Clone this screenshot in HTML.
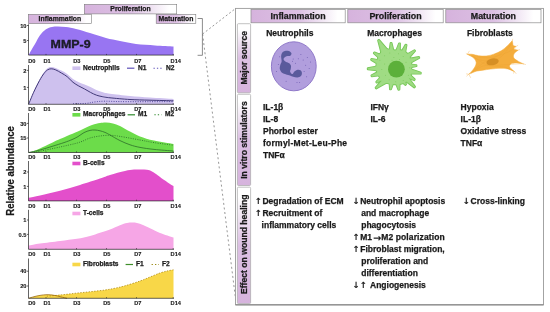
<!DOCTYPE html>
<html lang="en"><head><meta charset="utf-8"><title>MMP-9 in wound healing</title>
<style>
html,body{margin:0;padding:0;background:#fff;}
body{width:550px;height:312px;overflow:hidden;font-family:"Liberation Sans",sans-serif;}
svg{display:block;}
text{font-family:"Liberation Sans",sans-serif;font-weight:bold;fill:#1a1a1a;stroke:#1a1a1a;stroke-width:0.25px;}
.ar{font-family:"DejaVu Sans",sans-serif;font-size:7.4px;stroke-width:0.1px;}
.tk{font-size:5.7px;stroke-width:0.12px;}
.lg{font-size:6.6px;}
.bn{font-size:6.85px;}
.hd{font-size:8.85px;}
.bd{font-size:8.5px;}
.ax{stroke:#222;stroke-width:0.7;fill:none;}
</style></head><body>
<svg width="550" height="312" viewBox="0 0 550 312">
<defs>
<linearGradient id="gp" x1="0" y1="0" x2="1" y2="0"><stop offset="0" stop-color="#d6b3dd"/><stop offset="0.5" stop-color="#dcc0e3"/><stop offset="0.92" stop-color="#ffffff"/><stop offset="1" stop-color="#ffffff"/></linearGradient>
<linearGradient id="gv" x1="0" y1="1" x2="0" y2="0"><stop offset="0" stop-color="#d6b3dd"/><stop offset="0.5" stop-color="#dcc0e3"/><stop offset="0.92" stop-color="#ffffff"/><stop offset="1" stop-color="#ffffff"/></linearGradient>
</defs>
<rect width="550" height="312" fill="#fff"/>

<rect x="84.30" y="4.30" width="92.40" height="9.60" fill="url(#gp)" stroke="#7d7d7d" stroke-width="0.6"/>
<text class="bn" x="130.50" y="10.90" text-anchor="middle">Proliferation</text>
<rect x="28.30" y="14.30" width="63.20" height="9.30" fill="url(#gp)" stroke="#7d7d7d" stroke-width="0.6"/>
<text class="bn" x="59.90" y="20.75" text-anchor="middle">Inflammation</text>
<rect x="156.20" y="14.30" width="39.60" height="9.30" fill="url(#gp)" stroke="#7d7d7d" stroke-width="0.6"/>
<text class="bn" x="176.00" y="20.75" text-anchor="middle">Maturation</text>
<path d="M28.60,55.10 C29.00,54.37 29.93,52.55 31.00,50.70 C32.07,48.85 33.50,46.58 35.00,44.00 C36.50,41.42 38.17,37.67 40.00,35.20 C41.83,32.73 44.00,30.58 46.00,29.20 C48.00,27.82 50.00,27.37 52.00,26.90 C54.00,26.43 55.67,26.38 58.00,26.40 C60.33,26.42 63.00,26.57 66.00,27.00 C69.00,27.43 72.00,28.00 76.00,29.00 C80.00,30.00 85.00,31.50 90.00,33.00 C95.00,34.50 101.00,36.67 106.00,38.00 C111.00,39.33 115.00,40.00 120.00,41.00 C125.00,42.00 130.17,43.27 136.00,44.00 C141.83,44.73 148.75,45.00 155.00,45.40 C161.25,45.80 170.42,46.23 173.50,46.40 L173.50,55.10 L28.60,55.10 Z" fill="#9875f2"/>
<path class="ax" d="M28.50,24.30 V55.10 H174.00"/>
<path class="ax" d="M26.90,25.50 H28.50"/>
<text class="tk" x="26.50" y="27.60" text-anchor="end">10</text>
<path class="ax" d="M26.90,40.50 H28.50"/>
<text class="tk" x="26.50" y="42.60" text-anchor="end">5</text>
<path class="ax" d="M46.00,55.10 v-1.2" style="stroke-width:0.6"/>
<path class="ax" d="M76.50,55.10 v-1.2" style="stroke-width:0.6"/>
<path class="ax" d="M106.50,55.10 v-1.2" style="stroke-width:0.6"/>
<path class="ax" d="M136.50,55.10 v-1.2" style="stroke-width:0.6"/>
<path class="ax" d="M173.20,55.10 v-1.2" style="stroke-width:0.6"/>
<text class="tk" x="31.80" y="63.10" text-anchor="middle">D0</text>
<text class="tk" x="47.10" y="63.10" text-anchor="middle">D1</text>
<text class="tk" x="76.90" y="63.10" text-anchor="middle">D3</text>
<text class="tk" x="106.90" y="63.10" text-anchor="middle">D5</text>
<text class="tk" x="137.90" y="63.10" text-anchor="middle">D7</text>
<text class="tk" x="175.80" y="63.10" text-anchor="middle">D14</text>
<text transform="translate(70.6,48.1) scale(1.13,1)" text-anchor="middle" style="font-size:11px;fill:#1c1c28;stroke:#1c1c28;stroke-width:0.4px">MMP-9</text>
<path d="M28.60,104.30 C29.45,102.13 31.88,95.42 33.70,91.30 C35.52,87.18 37.80,82.78 39.50,79.60 C41.20,76.42 42.57,74.10 43.90,72.20 C45.23,70.30 46.28,69.07 47.50,68.20 C48.72,67.33 49.87,67.05 51.20,67.00 C52.53,66.95 53.80,67.30 55.50,67.90 C57.20,68.50 59.45,69.58 61.40,70.60 C63.35,71.62 65.27,72.60 67.20,74.00 C69.13,75.40 71.07,77.63 73.00,79.00 C74.93,80.37 76.87,81.30 78.80,82.20 C80.73,83.10 82.65,83.60 84.60,84.40 C86.55,85.20 88.55,86.08 90.50,87.00 C92.45,87.92 94.37,89.07 96.30,89.90 C98.23,90.73 99.82,91.35 102.10,92.00 C104.38,92.65 105.35,93.13 110.00,93.80 C114.65,94.47 123.33,95.37 130.00,96.00 C136.67,96.63 142.75,97.10 150.00,97.60 C157.25,98.10 169.58,98.77 173.50,99.00 L173.50,104.30 L28.60,104.30 Z" fill="#cec1ee"/>
<path d="M28.60,104.30 C29.45,102.28 31.88,96.15 33.70,92.20 C35.52,88.25 37.80,83.70 39.50,80.60 C41.20,77.50 42.57,75.38 43.90,73.60 C45.23,71.82 46.28,70.70 47.50,69.90 C48.72,69.10 49.87,68.82 51.20,68.80 C52.53,68.78 53.80,69.10 55.50,69.80 C57.20,70.50 59.45,71.85 61.40,73.00 C63.35,74.15 65.27,75.15 67.20,76.70 C69.13,78.25 71.07,80.75 73.00,82.30 C74.93,83.85 76.87,84.88 78.80,86.00 C80.73,87.12 82.65,87.93 84.60,89.00 C86.55,90.07 88.55,91.38 90.50,92.40 C92.45,93.42 94.37,94.40 96.30,95.10 C98.23,95.80 99.82,96.15 102.10,96.60 C104.38,97.05 105.35,97.32 110.00,97.80 C114.65,98.28 123.33,99.10 130.00,99.50 C136.67,99.90 142.75,99.98 150.00,100.20 C157.25,100.42 169.58,100.70 173.50,100.80" fill="none" stroke="#3a3272" stroke-width="0.95"/>
<path d="M73.00,103.60 C75.17,103.57 82.33,103.68 86.00,103.40 C89.67,103.12 91.83,102.27 95.00,101.90 C98.17,101.53 100.83,101.25 105.00,101.20 C109.17,101.15 112.50,101.52 120.00,101.60 C127.50,101.68 141.08,101.70 150.00,101.70 C158.92,101.70 169.58,101.62 173.50,101.60" fill="none" stroke="#4a3f95" stroke-width="0.9" stroke-dasharray="1 1.4"/>
<path class="ax" d="M28.50,65.00 V104.30 H174.00"/>
<path class="ax" d="M26.90,70.40 H28.50"/>
<text class="tk" x="26.50" y="72.50" text-anchor="end">2</text>
<path class="ax" d="M26.90,87.40 H28.50"/>
<text class="tk" x="26.50" y="89.50" text-anchor="end">1</text>
<path class="ax" d="M46.00,104.30 v-1.2" style="stroke-width:0.6"/>
<path class="ax" d="M76.50,104.30 v-1.2" style="stroke-width:0.6"/>
<path class="ax" d="M106.50,104.30 v-1.2" style="stroke-width:0.6"/>
<path class="ax" d="M136.50,104.30 v-1.2" style="stroke-width:0.6"/>
<path class="ax" d="M173.20,104.30 v-1.2" style="stroke-width:0.6"/>
<text class="tk" x="31.80" y="110.70" text-anchor="middle">D0</text>
<text class="tk" x="47.10" y="110.70" text-anchor="middle">D1</text>
<text class="tk" x="76.90" y="110.70" text-anchor="middle">D3</text>
<text class="tk" x="106.90" y="110.70" text-anchor="middle">D5</text>
<text class="tk" x="137.90" y="110.70" text-anchor="middle">D7</text>
<text class="tk" x="175.80" y="110.70" text-anchor="middle">D14</text>
<rect x="72.4" y="66.40" width="8" height="3.6" fill="#cfc1ee"/>
<text class="lg" x="83" y="69.80">Neutrophils</text>
<path d="M127.00,68.20 H134.40" stroke="#5e50b8" stroke-width="1.2" fill="none"/>
<text class="lg" x="138.00" y="69.80">N1</text>
<path d="M153.50,68.20 H161.80" stroke="#5e50b8" stroke-width="1.1" stroke-dasharray="1.3 2.1" fill="none"/>
<text class="lg" x="166.00" y="69.80">N2</text>
<path d="M28.60,152.50 C29.50,152.25 32.10,151.68 34.00,151.00 C35.90,150.32 37.17,149.70 40.00,148.40 C42.83,147.10 47.67,144.77 51.00,143.20 C54.33,141.63 55.17,141.13 60.00,139.00 C64.83,136.87 74.67,132.73 80.00,130.40 C85.33,128.07 88.67,126.23 92.00,125.00 C95.33,123.77 97.67,123.43 100.00,123.00 C102.33,122.57 103.83,122.33 106.00,122.40 C108.17,122.47 110.67,122.80 113.00,123.40 C115.33,124.00 117.17,124.63 120.00,126.00 C122.83,127.37 126.67,129.87 130.00,131.60 C133.33,133.33 136.00,134.90 140.00,136.40 C144.00,137.90 148.42,139.33 154.00,140.60 C159.58,141.87 170.25,143.43 173.50,144.00 L173.50,152.50 L28.60,152.50 Z" fill="#6cdc4a"/>
<path d="M28.60,152.50 C30.50,152.08 36.10,151.02 40.00,150.00 C43.90,148.98 48.00,147.63 52.00,146.40 C56.00,145.17 60.67,143.73 64.00,142.60 C67.33,141.47 69.67,140.60 72.00,139.60 C74.33,138.60 76.00,137.77 78.00,136.60 C80.00,135.43 82.00,133.63 84.00,132.60 C86.00,131.57 88.17,130.83 90.00,130.40 C91.83,129.97 93.33,129.93 95.00,130.00 C96.67,130.07 98.33,130.40 100.00,130.80 C101.67,131.20 103.33,131.70 105.00,132.40 C106.67,133.10 107.50,133.63 110.00,135.00 C112.50,136.37 116.67,138.97 120.00,140.60 C123.33,142.23 126.67,143.67 130.00,144.80 C133.33,145.93 136.00,146.63 140.00,147.40 C144.00,148.17 148.42,148.80 154.00,149.40 C159.58,150.00 170.25,150.73 173.50,151.00" fill="none" stroke="#2d6e2a" stroke-width="0.8"/>
<path d="M34.00,152.20 C35.00,152.03 35.67,152.07 40.00,151.20 C44.33,150.33 54.17,148.27 60.00,147.00 C65.83,145.73 71.33,144.53 75.00,143.60 C78.67,142.67 79.50,142.33 82.00,141.40 C84.50,140.47 87.00,138.90 90.00,138.00 C93.00,137.10 96.67,136.45 100.00,136.00 C103.33,135.55 106.67,135.23 110.00,135.30 C113.33,135.37 115.00,135.62 120.00,136.40 C125.00,137.18 134.33,138.97 140.00,140.00 C145.67,141.03 148.42,141.73 154.00,142.60 C159.58,143.47 170.25,144.77 173.50,145.20" fill="none" stroke="#2d6e2a" stroke-width="0.85" stroke-dasharray="1 1.3"/>
<path class="ax" d="M28.50,113.00 V152.50 H174.00"/>
<path class="ax" d="M26.90,123.40 H28.50"/>
<text class="tk" x="26.50" y="125.50" text-anchor="end">30</text>
<path class="ax" d="M26.90,138.00 H28.50"/>
<text class="tk" x="26.50" y="140.10" text-anchor="end">15</text>
<path class="ax" d="M46.00,152.50 v-1.2" style="stroke-width:0.6"/>
<path class="ax" d="M76.50,152.50 v-1.2" style="stroke-width:0.6"/>
<path class="ax" d="M106.50,152.50 v-1.2" style="stroke-width:0.6"/>
<path class="ax" d="M136.50,152.50 v-1.2" style="stroke-width:0.6"/>
<path class="ax" d="M173.20,152.50 v-1.2" style="stroke-width:0.6"/>
<text class="tk" x="31.80" y="159.10" text-anchor="middle">D0</text>
<text class="tk" x="47.10" y="159.10" text-anchor="middle">D1</text>
<text class="tk" x="76.90" y="159.10" text-anchor="middle">D3</text>
<text class="tk" x="106.90" y="159.10" text-anchor="middle">D5</text>
<text class="tk" x="137.90" y="159.10" text-anchor="middle">D7</text>
<text class="tk" x="175.80" y="159.10" text-anchor="middle">D14</text>
<rect x="72.4" y="113.00" width="8" height="3.6" fill="#6cdc4a"/>
<text class="lg" x="83" y="116.40">Macrophages</text>
<path d="M127.60,114.80 H135.00" stroke="#2f8a2c" stroke-width="1.2" fill="none"/>
<text class="lg" x="138.00" y="116.40">M1</text>
<path d="M154.40,114.80 H161.60" stroke="#2f8a2c" stroke-width="1.1" stroke-dasharray="1.3 2.1" fill="none"/>
<text class="lg" x="165.00" y="116.40">M2</text>
<path d="M28.60,197.80 C30.50,197.40 34.77,196.57 40.00,195.40 C45.23,194.23 53.33,192.53 60.00,190.80 C66.67,189.07 73.33,187.03 80.00,185.00 C86.67,182.97 95.00,180.27 100.00,178.60 C105.00,176.93 105.83,176.27 110.00,175.00 C114.17,173.73 121.00,171.90 125.00,171.00 C129.00,170.10 131.33,169.87 134.00,169.60 C136.67,169.33 138.83,169.37 141.00,169.40 C143.17,169.43 145.17,169.47 147.00,169.80 C148.83,170.13 150.17,170.47 152.00,171.40 C153.83,172.33 155.83,173.87 158.00,175.40 C160.17,176.93 163.00,179.17 165.00,180.60 C167.00,182.03 168.58,183.10 170.00,184.00 C171.42,184.90 172.92,185.67 173.50,186.00 L173.50,200.90 L28.60,200.90 Z" fill="#e34fcb"/>
<path class="ax" d="M28.50,161.00 V200.90 H174.00"/>
<path class="ax" d="M26.90,172.00 H28.50"/>
<text class="tk" x="26.50" y="174.10" text-anchor="end">2</text>
<path class="ax" d="M26.90,186.40 H28.50"/>
<text class="tk" x="26.50" y="188.50" text-anchor="end">1</text>
<path class="ax" d="M46.00,200.90 v-1.2" style="stroke-width:0.6"/>
<path class="ax" d="M76.50,200.90 v-1.2" style="stroke-width:0.6"/>
<path class="ax" d="M106.50,200.90 v-1.2" style="stroke-width:0.6"/>
<path class="ax" d="M136.50,200.90 v-1.2" style="stroke-width:0.6"/>
<path class="ax" d="M173.20,200.90 v-1.2" style="stroke-width:0.6"/>
<text class="tk" x="31.80" y="207.50" text-anchor="middle">D0</text>
<text class="tk" x="47.10" y="207.50" text-anchor="middle">D1</text>
<text class="tk" x="76.90" y="207.50" text-anchor="middle">D3</text>
<text class="tk" x="106.90" y="207.50" text-anchor="middle">D5</text>
<text class="tk" x="137.90" y="207.50" text-anchor="middle">D7</text>
<text class="tk" x="175.80" y="207.50" text-anchor="middle">D14</text>
<rect x="72.4" y="161.70" width="8" height="3.6" fill="#e34fcb"/>
<text class="lg" x="83" y="165.10">B-cells</text>
<path d="M28.60,245.60 C30.50,245.27 34.77,244.37 40.00,243.60 C45.23,242.83 53.83,241.80 60.00,241.00 C66.17,240.20 72.00,239.63 77.00,238.80 C82.00,237.97 86.17,237.00 90.00,236.00 C93.83,235.00 96.67,233.90 100.00,232.80 C103.33,231.70 106.67,230.67 110.00,229.40 C113.33,228.13 117.17,226.25 120.00,225.20 C122.83,224.15 125.00,223.53 127.00,223.10 C129.00,222.67 130.33,222.62 132.00,222.60 C133.67,222.58 135.17,222.60 137.00,223.00 C138.83,223.40 140.83,224.13 143.00,225.00 C145.17,225.87 147.17,226.87 150.00,228.20 C152.83,229.53 156.08,231.43 160.00,233.00 C163.92,234.57 171.25,236.83 173.50,237.60 L173.50,249.30 L28.60,249.30 Z" fill="#f6a6e6"/>
<path class="ax" d="M28.50,209.80 V249.30 H174.00"/>
<path class="ax" d="M26.90,220.00 H28.50"/>
<text class="tk" x="26.50" y="222.10" text-anchor="end">1</text>
<path class="ax" d="M26.90,234.40 H28.50"/>
<text class="tk" x="26.50" y="236.50" text-anchor="end">0.5</text>
<path class="ax" d="M46.00,249.30 v-1.2" style="stroke-width:0.6"/>
<path class="ax" d="M76.50,249.30 v-1.2" style="stroke-width:0.6"/>
<path class="ax" d="M106.50,249.30 v-1.2" style="stroke-width:0.6"/>
<path class="ax" d="M136.50,249.30 v-1.2" style="stroke-width:0.6"/>
<path class="ax" d="M173.20,249.30 v-1.2" style="stroke-width:0.6"/>
<text class="tk" x="31.80" y="256.10" text-anchor="middle">D0</text>
<text class="tk" x="47.10" y="256.10" text-anchor="middle">D1</text>
<text class="tk" x="76.90" y="256.10" text-anchor="middle">D3</text>
<text class="tk" x="106.90" y="256.10" text-anchor="middle">D5</text>
<text class="tk" x="137.90" y="256.10" text-anchor="middle">D7</text>
<text class="tk" x="175.80" y="256.10" text-anchor="middle">D14</text>
<rect x="72.4" y="211.70" width="8" height="3.6" fill="#f6a6e6"/>
<text class="lg" x="83" y="215.10">T-cells</text>
<path d="M28.60,298.30 C29.50,298.03 32.10,297.17 34.00,296.70 C35.90,296.23 37.83,295.83 40.00,295.50 C42.17,295.17 44.67,294.80 47.00,294.70 C49.33,294.60 51.60,294.90 54.00,294.90 C56.40,294.90 57.75,294.98 61.40,294.70 C65.05,294.42 71.05,293.70 75.90,293.20 C80.75,292.70 85.65,292.23 90.50,291.70 C95.35,291.17 100.92,290.58 105.00,290.00 C109.08,289.42 111.67,288.90 115.00,288.20 C118.33,287.50 120.83,287.00 125.00,285.80 C129.17,284.60 135.83,282.47 140.00,281.00 C144.17,279.53 146.67,278.33 150.00,277.00 C153.33,275.67 157.00,274.03 160.00,273.00 C163.00,271.97 165.75,271.33 168.00,270.80 C170.25,270.27 172.58,269.97 173.50,269.80 L173.50,298.30 L28.60,298.30 Z" fill="#f8d748"/>
<path d="M46.80,296.20 C49.23,295.98 56.55,295.40 61.40,294.90 C66.25,294.40 71.05,293.73 75.90,293.20 C80.75,292.67 85.65,292.23 90.50,291.70 C95.35,291.17 100.92,290.58 105.00,290.00 C109.08,289.42 111.67,288.90 115.00,288.20 C118.33,287.50 120.83,287.00 125.00,285.80 C129.17,284.60 135.83,282.47 140.00,281.00 C144.17,279.53 146.67,278.33 150.00,277.00 C153.33,275.67 157.00,274.03 160.00,273.00 C163.00,271.97 165.75,271.33 168.00,270.80 C170.25,270.27 172.58,269.97 173.50,269.80" fill="none" stroke="#b08a12" stroke-width="0.8" stroke-dasharray="1.4 1.4"/>
<path d="M28.60,298.30 C29.50,298.03 32.10,297.18 34.00,296.70 C35.90,296.22 37.83,295.73 40.00,295.40 C42.17,295.07 44.67,294.72 47.00,294.70 C49.33,294.68 51.67,294.93 54.00,295.30 C56.33,295.67 58.83,296.40 61.00,296.90 C63.17,297.40 66.00,298.07 67.00,298.30" fill="none" stroke="#9a6a12" stroke-width="0.8"/>
<path class="ax" d="M28.50,258.50 V298.30 H174.00"/>
<path class="ax" d="M26.90,271.20 H28.50"/>
<text class="tk" x="26.50" y="273.30" text-anchor="end">40</text>
<path class="ax" d="M26.90,286.00 H28.50"/>
<text class="tk" x="26.50" y="288.10" text-anchor="end">20</text>
<path class="ax" d="M46.00,298.30 v-1.2" style="stroke-width:0.6"/>
<path class="ax" d="M76.50,298.30 v-1.2" style="stroke-width:0.6"/>
<path class="ax" d="M106.50,298.30 v-1.2" style="stroke-width:0.6"/>
<path class="ax" d="M136.50,298.30 v-1.2" style="stroke-width:0.6"/>
<path class="ax" d="M173.20,298.30 v-1.2" style="stroke-width:0.6"/>
<text class="tk" x="31.80" y="305.40" text-anchor="middle">D0</text>
<text class="tk" x="47.10" y="305.40" text-anchor="middle">D1</text>
<text class="tk" x="76.90" y="305.40" text-anchor="middle">D3</text>
<text class="tk" x="106.90" y="305.40" text-anchor="middle">D5</text>
<text class="tk" x="137.90" y="305.40" text-anchor="middle">D7</text>
<text class="tk" x="175.80" y="305.40" text-anchor="middle">D14</text>
<rect x="72.4" y="262.70" width="8" height="3.6" fill="#f8d748"/>
<text class="lg" x="83" y="266.10">Fibroblasts</text>
<path d="M125.60,264.50 H133.00" stroke="#3f8f2a" stroke-width="1.2" fill="none"/>
<text class="lg" x="136.00" y="266.10">F1</text>
<path d="M151.60,264.50 H159.00" stroke="#9a8a16" stroke-width="1.1" stroke-dasharray="1.3 2.1" fill="none"/>
<text class="lg" x="162.00" y="266.10">F2</text>
<text transform="translate(13.7,170.9) rotate(-90) scale(0.955,1)" text-anchor="middle" style="font-size:10px">Relative abundance</text>
<path d="M197.6,18.5 H202.4 V55.3 H197.6" fill="none" stroke="#777" stroke-width="0.85"/>
<path d="M202.6,34 L235.4,8.6" fill="none" stroke="#7c7c7c" stroke-width="0.8" stroke-dasharray="2 2.2"/>
<path d="M202.6,34 L236.2,304" fill="none" stroke="#7c7c7c" stroke-width="0.8" stroke-dasharray="2 2.6"/>
<rect x="235.5" y="8.4" width="308" height="296.3" fill="#fff" stroke="#9a9a9a" stroke-width="0.9"/>
<path d="M235.5,304.9 H543.6" stroke="#8c8c8c" stroke-width="1.1" fill="none"/>
<rect x="251.00" y="9.5" width="94.20" height="13.3" fill="url(#gp)" stroke="#8c8c8c" stroke-width="0.7"/>
<text class="hd" x="298.10" y="19.3" text-anchor="middle">Inflammation</text>
<rect x="347.80" y="9.5" width="95.40" height="13.3" fill="url(#gp)" stroke="#8c8c8c" stroke-width="0.7"/>
<text class="hd" x="395.50" y="19.3" text-anchor="middle">Proliferation</text>
<rect x="445.80" y="9.5" width="95.20" height="13.3" fill="url(#gp)" stroke="#8c8c8c" stroke-width="0.7"/>
<text class="hd" x="493.40" y="19.3" text-anchor="middle">Maturation</text>
<rect x="237.4" y="23.70" width="13.2" height="69.10" rx="1" fill="url(#gv)" stroke="#a9a9a9" stroke-width="0.7"/>
<text class="hd" transform="translate(246.6,84.60) rotate(-90)" style="font-size:8.62px">Major source</text>
<rect x="237.4" y="94.30" width="13.2" height="91.20" rx="1" fill="url(#gv)" stroke="#a9a9a9" stroke-width="0.7"/>
<text class="hd" transform="translate(246.6,178.80) rotate(-90)" style="font-size:8.62px">In vitro stimulators</text>
<rect x="237.4" y="187.20" width="13.2" height="116.40" rx="1" fill="url(#gv)" stroke="#a9a9a9" stroke-width="0.7"/>
<text class="hd" transform="translate(246.6,294.00) rotate(-90)" style="font-size:8.62px">Effect on wound healing</text>
<text class="bd" x="289.8" y="35.6" text-anchor="middle">Neutrophils</text>
<text class="bd" x="394.6" y="35.6" text-anchor="middle">Macrophages</text>
<text class="bd" x="489.8" y="35.6" text-anchor="middle">Fibroblasts</text>
<ellipse cx="293.8" cy="66.3" rx="22.4" ry="24.5" fill="#b19edd" stroke="#9079c9" stroke-width="1"/>
<path d="M281.24,54.90 C281.45,53.94 281.92,52.98 282.52,52.34 C283.12,51.70 283.97,51.31 284.83,51.06 C285.68,50.80 286.80,50.74 287.65,50.80 C288.51,50.86 289.32,50.97 289.96,51.44 C290.60,51.91 291.44,52.89 291.50,53.62 C291.56,54.35 290.99,55.40 290.35,55.80 C289.70,56.21 288.46,55.89 287.65,56.06 C286.84,56.23 286.11,56.44 285.47,56.83 C284.83,57.21 284.08,57.83 283.80,58.37 C283.52,58.90 283.42,59.44 283.80,60.04 C284.19,60.63 285.19,61.43 286.11,61.96 C287.03,62.49 288.51,62.60 289.32,63.24 C290.13,63.88 290.75,64.85 290.99,65.81 C291.22,66.77 290.88,68.05 290.73,69.02 C290.58,69.98 289.96,70.79 290.09,71.58 C290.22,72.37 291.03,73.40 291.50,73.76 C291.97,74.13 292.42,74.13 292.91,73.76 C293.40,73.40 293.66,72.24 294.45,71.58 C295.24,70.92 296.65,70.00 297.66,69.79 C298.66,69.57 299.77,69.79 300.48,70.30 C301.19,70.81 301.81,71.90 301.89,72.86 C301.98,73.83 301.74,75.30 300.99,76.07 C300.24,76.84 298.71,77.38 297.40,77.48 C296.10,77.59 294.41,77.06 293.17,76.71 C291.93,76.37 291.14,75.82 289.96,75.43 C288.78,75.05 287.44,74.85 286.11,74.40 C284.79,73.96 283.05,73.63 282.01,72.74 C280.96,71.84 280.12,70.28 279.83,69.02 C279.53,67.75 279.91,66.41 280.21,65.17 C280.51,63.93 281.45,62.75 281.62,61.58 C281.79,60.40 281.30,59.22 281.24,58.11 C281.17,57.00 281.02,55.87 281.24,54.90 Z" fill="#5a5a9c"/>
<circle cx="293.2" cy="59.1" r="0.5" fill="#7461b4"/>
<circle cx="298.3" cy="58.8" r="0.5" fill="#7461b4"/>
<circle cx="303.2" cy="60.0" r="0.5" fill="#7461b4"/>
<circle cx="295.5" cy="63.2" r="0.5" fill="#7461b4"/>
<circle cx="305.6" cy="65.2" r="0.5" fill="#7461b4"/>
<circle cx="300.9" cy="54.5" r="0.5" fill="#7461b4"/>
<circle cx="309.2" cy="68.4" r="0.5" fill="#7461b4"/>
<circle cx="276.5" cy="71.6" r="0.5" fill="#7461b4"/>
<circle cx="279.7" cy="56.8" r="0.5" fill="#7461b4"/>
<circle cx="306.6" cy="76.7" r="0.5" fill="#7461b4"/>
<circle cx="299.6" cy="82.5" r="0.5" fill="#7461b4"/>
<circle cx="286.1" cy="81.2" r="0.5" fill="#7461b4"/>
<circle cx="310.5" cy="62.0" r="0.5" fill="#7461b4"/>
<circle cx="292.5" cy="61.3" r="0.5" fill="#7461b4"/>
<circle cx="297.0" cy="82.5" r="0.5" fill="#7461b4"/>
<circle cx="278.4" cy="64.5" r="0.5" fill="#7461b4"/>
<circle cx="304.1" cy="71.6" r="0.5" fill="#7461b4"/>
<circle cx="307.3" cy="57.5" r="0.5" fill="#7461b4"/>
<g fill="#74c654" stroke="#74c654" stroke-width="2.2" stroke-linejoin="round">
<path d="M386.95,49.69 C389.26,49.30 392.34,50.51 394.78,50.68 C397.23,50.84 399.58,50.21 401.62,50.68 C403.66,51.14 405.70,52.24 407.02,53.47 C408.34,54.70 408.88,56.58 409.54,58.06 C410.20,59.55 410.74,60.55 410.98,62.38 C411.22,64.21 411.06,67.00 410.98,69.04 C410.91,71.08 410.95,73.08 410.53,74.62 C410.11,76.17 409.15,77.26 408.46,78.31 C407.77,79.36 407.53,80.05 406.39,80.92 C405.25,81.79 403.60,83.00 401.62,83.53 C399.64,84.06 396.87,84.16 394.51,84.07 C392.15,83.98 389.53,83.43 387.49,82.99 C385.45,82.56 383.57,82.51 382.27,81.46 C380.96,80.41 380.53,78.35 379.66,76.69 C378.79,75.03 377.56,73.38 377.05,71.47 C376.54,69.56 376.41,67.45 376.60,65.26 C376.80,63.07 377.50,60.37 378.22,58.33 C378.94,56.29 379.46,54.46 380.92,53.02 C382.38,51.58 384.64,50.08 386.95,49.69 Z"/>
<path d="M390.11,52.98 Q384.93,47.23 378.91,40.04 L378.29,40.36 Q380.75,49.41 382.50,56.95 Z"/>
<path d="M394.29,53.91 Q392.86,49.09 391.45,43.18 L390.75,43.22 Q390.00,49.25 389.10,54.20 Z"/>
<path d="M399.82,54.91 Q399.68,49.82 399.84,43.67 L399.16,43.53 Q397.01,49.30 394.98,53.97 Z"/>
<path d="M404.48,56.37 Q405.16,51.25 406.33,45.12 L405.67,44.88 Q402.61,50.32 399.84,54.68 Z"/>
<path d="M406.89,60.40 Q410.41,55.99 414.92,50.87 L414.48,50.33 Q408.59,53.78 403.59,56.39 Z"/>
<path d="M407.65,64.31 Q412.76,61.24 419.12,57.83 L418.88,57.17 Q411.80,58.55 405.91,59.41 Z"/>
<path d="M407.46,68.21 Q411.44,67.03 416.32,65.95 L416.28,65.25 Q411.30,64.75 407.22,64.05 Z"/>
<path d="M406.74,73.46 Q412.98,73.30 420.54,73.45 L420.66,72.75 Q413.44,70.47 407.59,68.32 Z"/>
<path d="M404.93,76.47 Q409.19,77.92 414.21,80.00 L414.59,79.40 Q410.57,75.75 407.44,72.52 Z"/>
<path d="M402.73,78.78 Q408.07,82.48 414.35,87.25 L414.85,86.75 Q410.10,80.46 406.42,75.11 Z"/>
<path d="M400.18,80.11 Q402.62,82.13 405.31,84.79 L405.89,84.41 Q404.53,80.88 403.65,77.84 Z"/>
<path d="M394.86,80.62 Q396.68,84.66 398.55,89.66 L399.25,89.54 Q399.36,84.20 399.73,79.78 Z"/>
<path d="M389.35,79.64 Q389.87,83.94 390.15,89.15 L390.85,89.25 Q392.56,84.32 394.25,80.34 Z"/>
<path d="M385.23,76.76 Q381.08,81.82 375.78,87.73 L376.22,88.27 Q383.07,84.25 388.85,81.19 Z"/>
<path d="M382.73,74.87 Q379.97,78.17 376.39,81.92 L376.81,82.48 Q381.36,79.99 385.26,78.18 Z"/>
<path d="M381.24,70.28 Q376.95,72.76 371.60,75.47 L371.80,76.13 Q377.75,75.36 382.69,75.00 Z"/>
<path d="M380.65,65.60 Q374.91,67.04 367.88,68.45 L367.92,69.15 Q375.05,69.90 380.90,70.79 Z"/>
<path d="M382.10,60.77 Q377.28,60.15 371.52,59.07 L371.28,59.73 Q376.33,62.70 380.36,65.40 Z"/>
<path d="M384.15,56.34 Q379.67,54.79 374.39,52.60 L374.01,53.20 Q378.31,56.98 381.67,60.31 Z"/>
</g>
<g fill="#a0dc84" stroke="#a0dc84" stroke-width="0.6" stroke-linejoin="round">
<path d="M386.95,49.69 C389.26,49.30 392.34,50.51 394.78,50.68 C397.23,50.84 399.58,50.21 401.62,50.68 C403.66,51.14 405.70,52.24 407.02,53.47 C408.34,54.70 408.88,56.58 409.54,58.06 C410.20,59.55 410.74,60.55 410.98,62.38 C411.22,64.21 411.06,67.00 410.98,69.04 C410.91,71.08 410.95,73.08 410.53,74.62 C410.11,76.17 409.15,77.26 408.46,78.31 C407.77,79.36 407.53,80.05 406.39,80.92 C405.25,81.79 403.60,83.00 401.62,83.53 C399.64,84.06 396.87,84.16 394.51,84.07 C392.15,83.98 389.53,83.43 387.49,82.99 C385.45,82.56 383.57,82.51 382.27,81.46 C380.96,80.41 380.53,78.35 379.66,76.69 C378.79,75.03 377.56,73.38 377.05,71.47 C376.54,69.56 376.41,67.45 376.60,65.26 C376.80,63.07 377.50,60.37 378.22,58.33 C378.94,56.29 379.46,54.46 380.92,53.02 C382.38,51.58 384.64,50.08 386.95,49.69 Z"/>
<path d="M390.11,52.98 Q384.93,47.23 378.91,40.04 L378.29,40.36 Q380.75,49.41 382.50,56.95 Z"/>
<path d="M394.29,53.91 Q392.86,49.09 391.45,43.18 L390.75,43.22 Q390.00,49.25 389.10,54.20 Z"/>
<path d="M399.82,54.91 Q399.68,49.82 399.84,43.67 L399.16,43.53 Q397.01,49.30 394.98,53.97 Z"/>
<path d="M404.48,56.37 Q405.16,51.25 406.33,45.12 L405.67,44.88 Q402.61,50.32 399.84,54.68 Z"/>
<path d="M406.89,60.40 Q410.41,55.99 414.92,50.87 L414.48,50.33 Q408.59,53.78 403.59,56.39 Z"/>
<path d="M407.65,64.31 Q412.76,61.24 419.12,57.83 L418.88,57.17 Q411.80,58.55 405.91,59.41 Z"/>
<path d="M407.46,68.21 Q411.44,67.03 416.32,65.95 L416.28,65.25 Q411.30,64.75 407.22,64.05 Z"/>
<path d="M406.74,73.46 Q412.98,73.30 420.54,73.45 L420.66,72.75 Q413.44,70.47 407.59,68.32 Z"/>
<path d="M404.93,76.47 Q409.19,77.92 414.21,80.00 L414.59,79.40 Q410.57,75.75 407.44,72.52 Z"/>
<path d="M402.73,78.78 Q408.07,82.48 414.35,87.25 L414.85,86.75 Q410.10,80.46 406.42,75.11 Z"/>
<path d="M400.18,80.11 Q402.62,82.13 405.31,84.79 L405.89,84.41 Q404.53,80.88 403.65,77.84 Z"/>
<path d="M394.86,80.62 Q396.68,84.66 398.55,89.66 L399.25,89.54 Q399.36,84.20 399.73,79.78 Z"/>
<path d="M389.35,79.64 Q389.87,83.94 390.15,89.15 L390.85,89.25 Q392.56,84.32 394.25,80.34 Z"/>
<path d="M385.23,76.76 Q381.08,81.82 375.78,87.73 L376.22,88.27 Q383.07,84.25 388.85,81.19 Z"/>
<path d="M382.73,74.87 Q379.97,78.17 376.39,81.92 L376.81,82.48 Q381.36,79.99 385.26,78.18 Z"/>
<path d="M381.24,70.28 Q376.95,72.76 371.60,75.47 L371.80,76.13 Q377.75,75.36 382.69,75.00 Z"/>
<path d="M380.65,65.60 Q374.91,67.04 367.88,68.45 L367.92,69.15 Q375.05,69.90 380.90,70.79 Z"/>
<path d="M382.10,60.77 Q377.28,60.15 371.52,59.07 L371.28,59.73 Q376.33,62.70 380.36,65.40 Z"/>
<path d="M384.15,56.34 Q379.67,54.79 374.39,52.60 L374.01,53.20 Q378.31,56.98 381.67,60.31 Z"/>
</g>
<circle cx="396.4" cy="69.2" r="8.4" fill="#5cb03a"/>
<circle cx="384.6" cy="55.7" r="0.5" fill="#7fcb60"/>
<circle cx="389.8" cy="52.9" r="0.5" fill="#7fcb60"/>
<circle cx="393.9" cy="57.5" r="0.5" fill="#7fcb60"/>
<circle cx="398.5" cy="53.8" r="0.5" fill="#7fcb60"/>
<circle cx="403.2" cy="56.6" r="0.5" fill="#7fcb60"/>
<circle cx="406.0" cy="62.2" r="0.5" fill="#7fcb60"/>
<circle cx="384.6" cy="64.0" r="0.5" fill="#7fcb60"/>
<circle cx="381.8" cy="69.6" r="0.5" fill="#7fcb60"/>
<circle cx="385.5" cy="75.2" r="0.5" fill="#7fcb60"/>
<circle cx="389.2" cy="79.8" r="0.5" fill="#7fcb60"/>
<circle cx="395.7" cy="81.7" r="0.5" fill="#7fcb60"/>
<circle cx="403.2" cy="80.4" r="0.5" fill="#7fcb60"/>
<circle cx="408.4" cy="75.2" r="0.5" fill="#7fcb60"/>
<circle cx="409.7" cy="67.7" r="0.5" fill="#7fcb60"/>
<circle cx="379.9" cy="60.3" r="0.5" fill="#7fcb60"/>
<circle cx="392.0" cy="60.3" r="0.5" fill="#7fcb60"/>
<circle cx="399.5" cy="59.4" r="0.5" fill="#7fcb60"/>
<path d="M466.92,54.15 C467.82,54.18 470.38,54.05 472.31,54.31 C474.23,54.56 476.15,55.41 478.46,55.69 C480.77,55.97 483.59,56.26 486.15,56.00 C488.72,55.74 491.28,55.05 493.85,54.15 C496.41,53.26 499.23,52.05 501.54,50.62 C503.85,49.18 505.90,47.21 507.69,45.54 C509.49,43.87 511.54,41.44 512.31,40.62 C512.38,41.08 512.59,42.56 512.77,43.38 C512.95,44.21 512.82,45.03 513.38,45.54 C513.95,46.05 515.69,46.31 516.15,46.46 C515.85,46.67 514.64,47.23 514.31,47.69 C513.97,48.15 513.51,48.82 514.15,49.23 C514.79,49.64 517.49,50.00 518.15,50.15 C517.64,50.56 515.85,51.77 515.08,52.62 C514.31,53.46 513.69,54.28 513.54,55.23 C513.38,56.18 513.33,57.28 514.15,58.31 C514.97,59.33 516.85,60.44 518.46,61.38 C520.08,62.33 522.95,63.56 523.85,64.00 C522.69,63.82 518.97,63.00 516.92,62.92 C514.87,62.85 512.77,63.00 511.54,63.54 C510.31,64.08 509.54,65.23 509.54,66.15 C509.54,67.08 510.69,68.15 511.54,69.08 C512.38,70.00 514.10,71.26 514.62,71.69 C513.46,71.23 510.13,69.49 507.69,68.92 C505.26,68.36 502.82,68.28 500.00,68.31 C497.18,68.33 493.59,68.77 490.77,69.08 C487.95,69.38 485.38,69.82 483.08,70.15 C480.77,70.49 478.67,70.67 476.92,71.08 C475.18,71.49 474.03,72.05 472.62,72.62 C471.21,73.18 469.15,74.15 468.46,74.46 C469.15,73.74 471.46,71.56 472.62,70.15 C473.77,68.74 474.79,67.33 475.38,66.00 C475.97,64.67 476.36,63.41 476.15,62.15 C475.95,60.90 475.10,59.51 474.15,58.46 C473.21,57.41 471.67,56.56 470.46,55.85 C469.26,55.13 467.51,54.44 466.92,54.15 Z" fill="#f4ad3d" stroke="#f4ad3d" stroke-width="0.5" stroke-linejoin="round"/>
<path d="M466.92,54.15 L465.85,53.23" stroke="#f6c374" stroke-width="0.5" fill="none"/>
<path d="M467.38,54.15 L469.54,50.77" stroke="#f6c374" stroke-width="0.5" fill="none"/>
<path d="M512.31,40.62 L512.77,38.77" stroke="#f6c374" stroke-width="0.5" fill="none"/>
<path d="M516.15,46.46 L518.15,45.23" stroke="#f6c374" stroke-width="0.5" fill="none"/>
<path d="M518.15,50.15 L520.00,49.54" stroke="#f6c374" stroke-width="0.5" fill="none"/>
<path d="M523.85,64.00 L525.85,64.62" stroke="#f6c374" stroke-width="0.5" fill="none"/>
<path d="M514.62,71.69 L516.31,73.85" stroke="#f6c374" stroke-width="0.5" fill="none"/>
<path d="M514.15,71.38 L513.54,73.54" stroke="#f6c374" stroke-width="0.5" fill="none"/>
<path d="M468.46,74.46 L466.46,76.31" stroke="#f6c374" stroke-width="0.5" fill="none"/>
<path d="M468.92,74.46 L470.77,77.85" stroke="#f6c374" stroke-width="0.5" fill="none"/>
<path d="M468.46,74.15 L466.15,73.85" stroke="#f6c374" stroke-width="0.5" fill="none"/>
<path d="M469.23,55.23 C471.54,56.13 477.95,60.23 483.08,60.62 C488.21,61.00 495.26,60.36 500.00,57.54 C504.74,54.72 509.62,46.00 511.54,43.69" fill="none" stroke="#e89f30" stroke-width="0.35" opacity="0.8"/>
<path d="M470.77,73.69 C472.82,72.41 478.46,67.41 483.08,66.00 C487.69,64.59 492.05,65.62 498.46,65.23 C504.87,64.85 517.69,63.95 521.54,63.69" fill="none" stroke="#e89f30" stroke-width="0.35" opacity="0.8"/>
<path d="M472.31,56.00 C474.87,57.54 482.56,63.44 487.69,65.23 C492.82,67.03 498.85,65.87 503.08,66.77 C507.31,67.67 511.41,69.97 513.08,70.62" fill="none" stroke="#e89f30" stroke-width="0.35" opacity="0.8"/>
<path d="M471.54,72.15 C473.72,70.49 479.87,65.10 484.62,62.15 C489.36,59.21 495.38,57.67 500.00,54.46 C504.62,51.26 510.26,44.85 512.31,42.92" fill="none" stroke="#e89f30" stroke-width="0.35" opacity="0.8"/>
<path d="M476.92,56.77 C479.23,56.90 485.90,58.18 490.77,57.54 C495.64,56.90 501.92,54.59 506.15,52.92 C510.38,51.26 514.49,48.44 516.15,47.54" fill="none" stroke="#e89f30" stroke-width="0.35" opacity="0.8"/>
<ellipse cx="492.6" cy="61.8" rx="6.2" ry="3.4" transform="rotate(-10 492.6 61.8)" fill="#d68f24"/>
<text class="bd" x="263.00" y="110.00">IL-1β</text>
<text class="bd" x="263.00" y="121.88">IL-8</text>
<text class="bd" x="263.00" y="133.76">Phorbol ester</text>
<text class="bd" x="263.00" y="145.64" style="letter-spacing:0.25px">formyl-Met-Leu-Phe</text>
<text class="bd" x="263.00" y="157.52">TNFα</text>
<text class="bd" x="370.40" y="110.00">IFNγ</text>
<text class="bd" x="370.40" y="121.88">IL-6</text>
<text class="bd" x="460.60" y="110.00">Hypoxia</text>
<text class="bd" x="460.60" y="121.88">IL-1β</text>
<text class="bd" x="460.60" y="133.76">Oxidative stress</text>
<text class="bd" x="460.60" y="145.64">TNFα</text>
<text class="bd ar" x="258.20" y="204.20" text-anchor="middle">↑</text>
<text class="bd" x="262.40" y="204.00">Degradation of ECM</text>
<text class="bd ar" x="258.20" y="216.20" text-anchor="middle">↑</text>
<text class="bd" x="262.40" y="216.00">Recruitment of</text>
<text class="bd" x="261.60" y="228.00">inflammatory cells</text>
<text class="bd ar" x="356.00" y="204.20" text-anchor="middle">↓</text>
<text class="bd" x="360.20" y="204.00">Neutrophil apoptosis</text>
<text class="bd" x="361.20" y="216.00">and macrophage</text>
<text class="bd" x="361.20" y="228.00">phagocytosis</text>
<text class="bd ar" x="356.00" y="240.20" text-anchor="middle">↑</text>
<text class="bd" x="360.20" y="240.00">M1</text>
<text class="bd ar" x="376.9" y="240.60" text-anchor="middle" style="font-size:9.6px">→</text>
<text class="bd" x="381.2" y="240.00" style="letter-spacing:0.12px">M2 polarization</text>
<text class="bd ar" x="356.00" y="252.20" text-anchor="middle">↑</text>
<text class="bd" x="360.20" y="252.00">Fibroblast migration,</text>
<text class="bd" x="361.20" y="264.00">proliferation and</text>
<text class="bd" x="361.20" y="276.00">differentiation</text>
<text class="bd ar" x="356.00" y="288.20" text-anchor="middle">↓</text>
<text class="bd" x="370.00" y="288.00">Angiogenesis</text>
<text class="bd ar" x="363.2" y="288.20" text-anchor="middle">↑</text>
<text class="bd ar" x="466.40" y="204.20" text-anchor="middle">↓</text>
<text class="bd" x="470.60" y="204.00">Cross-linking</text>
</svg>
</body></html>
